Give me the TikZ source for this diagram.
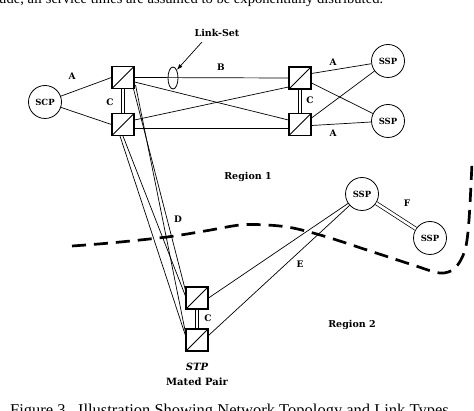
\documentclass[tikz,border=0pt]{standalone}
\usepackage{fontspec}
\setmainfont{Liberation Serif}
\newfontfamily\slab{DejaVu Serif}
\usetikzlibrary{shapes.geometric,calc,arrows.meta}
\begin{document}
\begin{tikzpicture}[x=1pt,y=-1pt,
  lbl/.style={font=\slab\bfseries\fontsize{9}{10}\selectfont, inner sep=0pt},
  reg/.style={font=\slab\bfseries\fontsize{9.5}{11}\selectfont, inner sep=0pt},
  stpbox/.style={draw, line width=1.1pt, minimum size=22pt, inner sep=0pt,
    path picture={\draw[line width=0.9pt] (path picture bounding box.south west) -- (path picture bounding box.north east);}},
  pnode/.style={draw, circle, line width=0.8pt, minimum size=33pt, inner sep=0pt,
    font=\slab\bfseries\fontsize{8.5}{10}\selectfont},
  link/.style={line width=0.7pt},
  dlink/.style={double, double distance=2.6pt, line width=0.7pt},
  boundary/.style={line width=2.7pt, dash pattern=on 14pt off 8pt}
]
\useasboundingbox (0,0) rectangle (474,411);
\clip (0,0) rectangle (474,411);

% text cut by the frame
\node[anchor=base west, inner sep=0pt, font=\fontsize{14.6}{16}\selectfont] (toptext) at (-1,3.2)
  {ude, all service times are assumed to be exponentially distributed.};
\node[anchor=base west, inner sep=0pt, font=\fontsize{16.5}{18}\selectfont] (caption) at (10,416)
  {Figure 3.\enspace Illustration Showing Network Topology and Link Types};

% nodes
\node[pnode] (scp) at (45,102) {SCP};
\node[stpbox] (ltop) at (123,77.5) {};
\node[stpbox] (lbot) at (123,124.5) {};
\node[stpbox] (rtop) at (300,78) {};
\node[stpbox] (rbot) at (300,124.5) {};
\node[pnode] (ssp1) at (388,61) {SSP};
\node[pnode] (ssp2) at (388,121) {SSP};
\node[pnode] (ssp3) at (362,194) {SSP};
\node[pnode] (ssp4) at (430,238) {SSP};
\node[stpbox] (btop) at (197,298) {};
\node[stpbox] (bbot) at (197,340) {};
\node[ellipse, draw, line width=0.8pt, minimum width=10pt, minimum height=22pt, inner sep=0pt] (ls) at (173,78) {};

% labels
\node[lbl] (la1) at (72,76) {A};
\node[lbl] (lc1) at (110,102) {C};
\node[lbl] (lb) at (221,67) {B};
\node[lbl] (la2) at (333,62) {A};
\node[lbl] (la3) at (333,133) {A};
\node[lbl] (lc2) at (310,100) {C};
\node[lbl] (lc3) at (208,318) {C};
\node[lbl] (ld) at (178,219) {D};
\node[lbl] (le) at (300,264) {E};
\node[lbl] (lf) at (407,203) {F};
\node[reg] (lsl) at (217,33) {Link-Set};
\node[reg] (r1) at (248,177) {Region 1};
\node[reg] (r2) at (352,325) {Region 2};
\node[reg, align=center, font=\slab\bfseries\fontsize{10}{15}\selectfont] (stpl) at (197,374.5) {\itshape STP\\Mated Pair};

% A links
\draw[link] (scp) -- (ltop.west);
\draw[link] (scp) -- (lbot.west);
\draw[link] ($(rtop.east)+(0,-4.5)$) -- (ssp1);
\draw[link] ($(rtop.east)+(0,5)$) -- (ssp2);
\draw[link] ($(rbot.east)+(0,-6.5)$) -- (ssp1);
\draw[link] ($(rbot.east)+(0,1)$) -- (ssp2);

% B links
\draw[link] (ltop.east) -- (rtop.west);
\draw[link] ($(lbot.east)+(0,3.5)$) -- ($(rbot.west)+(0,3.5)$);
\draw[link] ($(ltop.east)+(0,4.5)$) -- ($(rbot.west)+(0,-4.5)$);
\draw[link] ($(lbot.east)+(0,-4.5)$) -- ($(rtop.west)+(0,9)$);

% C links
\draw[dlink] (ltop.south) -- (lbot.north);
\draw[dlink] (rtop.south) -- (rbot.north);
\draw[dlink] (btop.south) -- (bbot.north);

% D links
\draw[link] ($(ltop.south east)+(-1,0)$) -- ($(btop.north west)+(0,4)$);
\draw[link] ($(ltop.south east)+(1,-4)$) -- ($(bbot.north west)+(0,4)$);
\draw[link] ($(lbot.south)+(0,0)$) -- ($(btop.west)+(0,-2)$);
\draw[link] ($(lbot.south)+(-3,0)$) -- ($(bbot.north west)+(0,7)$);

% E links
\draw[link] (ssp3) -- (btop.east);
\draw[link] (ssp3) -- ($(bbot.north east)+(0,7)$);

% F link
\draw[dlink] (ssp3) -- (ssp4);

% link-set pointer
\coordinate (lsstart) at (202,42);
\draw[link, -{Latex[length=6pt,width=4pt]}] (lsstart) -- (ls.north east);

% region boundary
\draw[boundary] plot[smooth, tension=0.55] coordinates {
  (72,246) (110,243) (167,237) (205,231) (240,225) (267,225) (293,228)
  (327,237) (367,250) (413,265) (440,273) (455,268) (465,250) (469,220) (472,163)};
\end{tikzpicture}
\end{document}
